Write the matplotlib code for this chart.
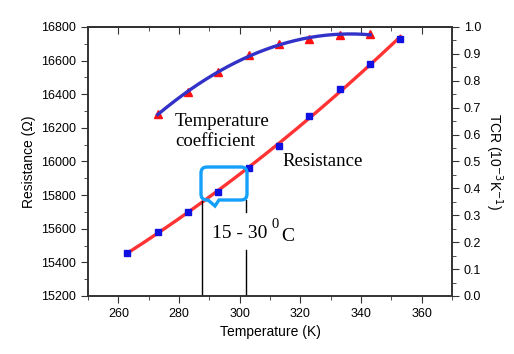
import numpy as np
import matplotlib
matplotlib.use('Agg')
from matplotlib import pyplot as plt
from matplotlib.path import Path
from matplotlib.patches import PathPatch
from matplotlib.transforms import IdentityTransform
from matplotlib.ticker import MultipleLocator

# resistance data (blue squares)
temp_r = [263, 273, 283, 293, 303, 313, 323, 333, 343, 353]
resistance = [15455, 15582, 15698, 15820, 15962, 16093, 16270, 16432, 16580, 16730]

# temperature coefficient data (red triangles)
temp_tcr = [273, 283, 293, 303, 313, 323, 333, 343]
tcr = [0.675, 0.759, 0.833, 0.896, 0.937, 0.955, 0.969, 0.975]

plt.rcParams['font.family'] = 'Liberation Sans'
W, H = 514, 354
fig = plt.figure(figsize=(W / 100, H / 100), dpi=100)
ax = fig.add_axes([88 / W, 1 - 296 / H, (452 - 88) / W, (296 - 27) / H])
ax2 = ax.twinx()

red = '#FF3333'
blue = '#3232C8'

# fitted lines
p = np.polyfit(temp_r, resistance, 2)
tt = np.linspace(temp_r[0], temp_r[-1], 200)
ax.plot(tt, np.polyval(p, tt), color=red, lw=2.4, zorder=2)
ax.plot(temp_r, resistance, 's', color='#1010E0', ms=4.5, zorder=3)

q = np.polyfit(temp_tcr, tcr, 2)
tt2 = np.linspace(temp_tcr[0], temp_tcr[-1], 200)
ax2.plot(temp_tcr, tcr, '^', color='#FF1010', ms=5.5, zorder=2)
ax2.plot(tt2, np.polyval(q, tt2), color=blue, lw=2.4, zorder=3)

ax.set_xlim(250, 370)
ax.set_ylim(15200, 16800)
ax2.set_ylim(0, 1.0)

ax.xaxis.set_major_locator(MultipleLocator(20))
ax.xaxis.set_minor_locator(MultipleLocator(10))
ax.yaxis.set_major_locator(MultipleLocator(200))
ax.yaxis.set_minor_locator(MultipleLocator(100))
ax2.yaxis.set_major_locator(MultipleLocator(0.1))
ax2.yaxis.set_minor_locator(MultipleLocator(0.05))
ax2.yaxis.set_major_formatter(plt.FormatStrFormatter('%.1f'))

spc = '#333333'
for a in (ax, ax2):
    for s in a.spines.values():
        s.set_color(spc)
        s.set_linewidth(1.2)
ax.tick_params(axis='x', which='both', direction='out', labelsize=9, color=spc)
ax.tick_params(axis='y', which='both', direction='out', labelsize=9, color=spc)
ax.tick_params(which='major', length=5)
ax.tick_params(which='minor', length=3)
ax2.tick_params(axis='y', which='both', direction='out', labelsize=9, color=spc)
ax2.tick_params(which='major', length=5)
ax2.tick_params(which='minor', length=3)

# top ticks point inward
top = ax.secondary_xaxis('top')
top.xaxis.set_major_locator(MultipleLocator(20))
top.xaxis.set_minor_locator(MultipleLocator(10))
top.tick_params(which='both', direction='in', labeltop=False, color=spc)
top.tick_params(which='major', length=5)
top.tick_params(which='minor', length=3)
top.spines['top'].set_color(spc)
top.spines['top'].set_linewidth(1.2)

ax.set_xlabel('Temperature (K)', fontsize=10, labelpad=4)
ax.set_ylabel('Resistance (\u03a9)', fontsize=10, labelpad=4)
ax2.set_ylabel('TCR (10$^{-3}$K$^{-1}$)', fontsize=10, rotation=-90, labelpad=17)

# annotations
serif = 'Liberation Serif'
fig.text(175 / W, 1 - 113 / H, 'Temperature\ncoefficient', family=serif, fontsize=13.5,
         va='top', ha='left', linespacing=1.25)
fig.text(282 / W, 1 - 166 / H, 'Resistance', family=serif, fontsize=13.5, va='baseline')
fig.text(212 / W, 1 - 238 / H, '15 - 30', family=serif, fontsize=14, va='baseline')
fig.text(272 / W, 1 - 228 / H, '0', family=serif, fontsize=10.5, va='baseline')
fig.text(281 / W, 1 - 241 / H, 'C', family=serif, fontsize=14, va='baseline')

# vertical marker lines
ax.axvline(287.6, ymin=0, ymax=(296 - 201) / 269, color='k', lw=1)
ax.axvline(302.2, ymin=0, ymax=(296 - 250) / 269, color='k', lw=1)
ax.axvline(302.2, ymin=(296 - 212) / 269, ymax=(296 - 200) / 269, color='k', lw=1)

# callout bubble, drawn in pixel coordinates
x0, x1, y0, y1, r = 201, 247, 167, 200, 6
pts = [(x0 + r, y0), (x1 - r, y0), (x1, y0), (x1, y0 + r), (x1, y1 - r),
       (x1, y1), (x1 - r, y1), (219, y1), (215, 206), (208, y1), (x0 + r, y1),
       (x0, y1), (x0, y1 - r), (x0, y0 + r), (x0, y0), (x0 + r, y0)]
codes = [Path.MOVETO, Path.LINETO, Path.CURVE3, Path.CURVE3, Path.LINETO,
         Path.CURVE3, Path.CURVE3, Path.LINETO, Path.LINETO, Path.LINETO, Path.LINETO,
         Path.CURVE3, Path.CURVE3, Path.LINETO, Path.CURVE3, Path.CURVE3]
verts = [(x, H - y) for x, y in pts]
fig.patches.append(PathPatch(Path(verts, codes), transform=IdentityTransform(),
                             facecolor='none', edgecolor='#14A0FA', lw=2.4, zorder=5))

fig.savefig('out.png', dpi=100)
